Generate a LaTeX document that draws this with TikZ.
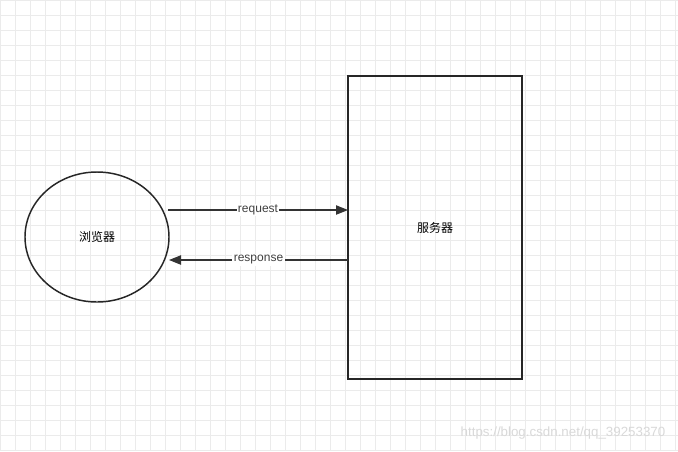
\documentclass[tikz,border=0pt]{standalone}
\usepackage{fontspec}
\setmainfont{Liberation Sans}
\newfontfamily\cjk{Noto Sans CJK SC}
\usetikzlibrary{arrows.meta, shapes.geometric}

\begin{document}
\begin{tikzpicture}[x=0.75pt, y=-0.75pt,
  box/.style={draw=black!85, line width=1.1pt, inner sep=0pt},
  link/.style={draw=black!80, thick, -{Triangle[length=9pt, width=7pt]}},
  tag/.style={fill=white, inner sep=1pt, font=\small, text=black!75}]
\useasboundingbox (0,0) rectangle (678,451);
\fill[white] (0,0) rectangle (678,451);
\draw[black!8, step=11.25pt] (0,0) grid (678,451);

\node[box, ellipse, minimum width=144*0.75pt, minimum height=130*0.75pt,
  font=\cjk\small] (browser) at (97,237) {浏览器};
\node[box, rectangle, minimum width=174*0.75pt, minimum height=303*0.75pt,
  font=\cjk\small] (server) at (435,227.5) {服务器};

\coordinate (reqA) at (168,210);
\coordinate (reqB) at (348,210);
\coordinate (resA) at (348,260);
\coordinate (resB) at (169,260);
\draw[link] (reqA) -- (reqB) node[tag, pos=0.5] {request};
\draw[link] (resA) -- (resB) node[tag, pos=0.5] {response};

\node[text=black!15, font=\normalsize, anchor=east] (mark) at (670,433)
  {https://blog.csdn.net/qq\_39253370};
\end{tikzpicture}
\end{document}
